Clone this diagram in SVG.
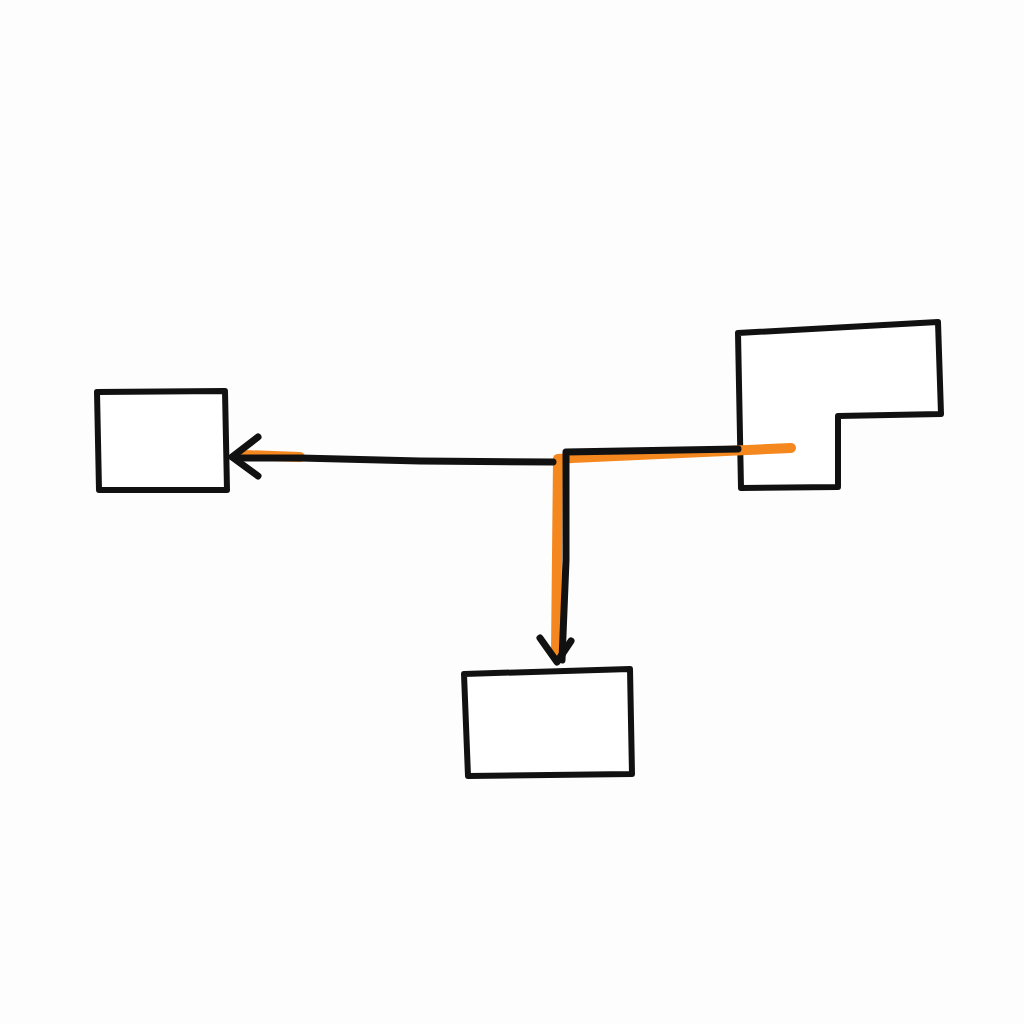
<svg xmlns="http://www.w3.org/2000/svg" width="1024" height="1024" viewBox="0 0 1024 1024">
<style>
.node{fill:#fff;stroke:#111;stroke-width:6;stroke-linejoin:round;stroke-linecap:round}
.blk{fill:none;stroke:#111;stroke-width:7;stroke-linecap:round;stroke-linejoin:round}
.org{fill:none;stroke:#f5871f;stroke-width:10;stroke-linecap:round;stroke-linejoin:round}
</style>
<rect width="1024" height="1024" fill="#fdfdfd"/>
<g id="node-left"><path class="node" d="M97 392 L225 391 L227 490 L99 490 Z"/></g>
<g id="node-bottom"><path class="node" d="M464 674 L630 669 L632 774 L468 776 Z"/></g>
<g id="node-right"><path class="node" d="M738 333 L938 322 L941 414 L838 416 L838 487 L741 488 Z"/></g>
<g id="connectors">
<path class="org" d="M300 457 L244 455"/>
<path class="org" d="M791 448 L572 458 L558 459 L556 652"/>
<path class="blk" d="M553 462 L420 461 L300 458 L236 458"/>
<path class="blk" d="M258 437 L232 457 L258 476"/>
<path class="blk" d="M738 449 L566 452 L566 560 L562 660"/>
<path class="blk" d="M540 638 L557 662 L571 641"/>
</g>
</svg>
